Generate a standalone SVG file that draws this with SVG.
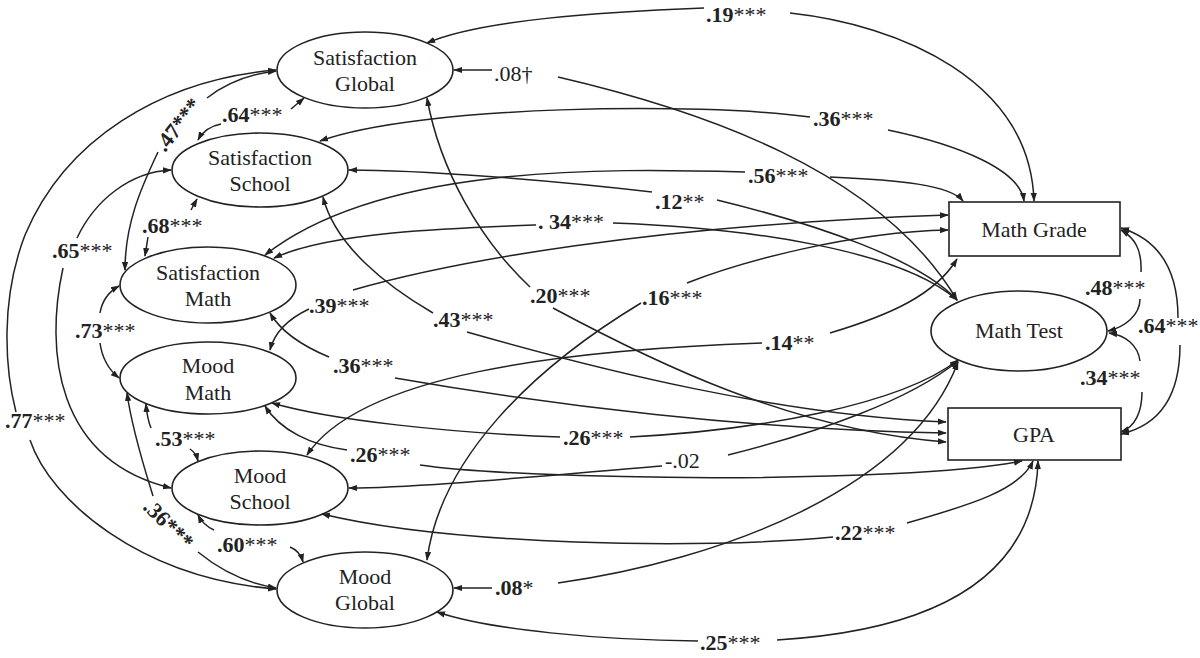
<svg xmlns="http://www.w3.org/2000/svg" width="1200" height="658" viewBox="0 0 1200 658">
<style>
.n ellipse, .n rect {fill:#fff; stroke:#222; stroke-width:1.6}
.t {font-family:"Liberation Serif","Times New Roman",serif; font-size:22px; fill:#222; text-anchor:middle}
.c path {fill:none; stroke:#222; stroke-width:1.5; marker-end:url(#ah)}
.l {font-family:"Liberation Serif","Times New Roman",serif; font-size:22px; font-weight:bold; fill:#222}
.s {font-weight:normal}
.r {font-weight:normal}
</style>
<defs>
<marker id="ah" viewBox="0 0 10 10" refX="9" refY="5" markerWidth="9" markerHeight="9" markerUnits="userSpaceOnUse" orient="auto"><path d="M0,1.5 L10,5 L0,8.5 z" fill="#222"/></marker>
</defs>
<rect width="1200" height="658" fill="#fff"/>

<g id="sat-global" class="n"><ellipse cx="365" cy="70" rx="88" ry="38"/><text class="t" x="365" y="65">Satisfaction</text><text class="t" x="365" y="91">Global</text></g>
<g id="sat-school" class="n"><ellipse cx="260" cy="170" rx="88" ry="37"/><text class="t" x="260" y="165">Satisfaction</text><text class="t" x="260" y="191">School</text></g>
<g id="sat-math" class="n"><ellipse cx="208" cy="285" rx="88" ry="38"/><text class="t" x="208" y="280">Satisfaction</text><text class="t" x="208" y="306">Math</text></g>
<g id="mood-math" class="n"><ellipse cx="208" cy="378" rx="88" ry="36"/><text class="t" x="208" y="373">Mood</text><text class="t" x="208" y="400">Math</text></g>
<g id="mood-school" class="n"><ellipse cx="260" cy="488" rx="88" ry="37"/><text class="t" x="260" y="483">Mood</text><text class="t" x="260" y="509">School</text></g>
<g id="mood-global" class="n"><ellipse cx="365" cy="590" rx="88" ry="38"/><text class="t" x="365" y="584">Mood</text><text class="t" x="365" y="610">Global</text></g>
<g id="math-grade" class="n"><rect x="949" y="202" width="171" height="54"/><text class="t" x="1034" y="237">Math Grade</text></g>
<g id="math-test" class="n"><ellipse cx="1019" cy="331" rx="88" ry="40"/><text class="t" x="1019" y="338">Math Test</text></g>
<g id="gpa" class="n"><rect x="948" y="408" width="173" height="52"/><text class="t" x="1034" y="442">GPA</text></g>

<g id="connectors" class="c">
<!-- left correlations -->
<path d="M291,109 Q297,104 304,98"/>
<path d="M221,124 Q205,127 198,140"/>
<path d="M207,98 C225,84 250,74 276,71"/>
<path d="M158,152 C140,190 125,225 125,270"/>
<path d="M191,210 L197,199"/>
<path d="M148,237 L145,256"/>
<path d="M77,238 C95,200 130,172 171,170"/>
<path d="M63,268 C45,350 55,460 171,488"/>
<path d="M100,313 Q103,295 119,286"/>
<path d="M100,343 Q103,365 119,378"/>
<path d="M16,412 C5,370 0,300 25,235 C65,140 160,80 276,70"/>
<path d="M30,440 C50,500 140,578 276,589"/>
<path d="M151,428 Q147,418 146,404"/>
<path d="M190,449 Q196,453 198,461"/>
<path d="M153,496 C145,470 132,430 127,393"/>
<path d="M198,552 C220,570 245,583 276,588"/>
<path d="M214,530 Q203,525 198,515"/>
<path d="M290,547 Q300,551 303,562"/>
<!-- to outcomes -->
<path d="M704,8 C600,12 480,20 427,43"/>
<path d="M790,13 C900,25 1030,80 1034,201"/>
<path d="M492,70 L454,70"/>
<path d="M558,77 C700,110 880,170 957,300"/>
<path d="M810,117 C700,102 420,105 320,141"/>
<path d="M888,130 C960,145 1020,170 1024,201"/>
<path d="M745,172 C600,168 380,165 265,255"/>
<path d="M830,177 C900,180 950,185 963,201"/>
<path d="M652,192 C550,180 420,170 349,170"/>
<path d="M717,200 C820,225 920,260 957,300"/>
<path d="M536,225 C450,228 330,232 274,258"/>
<path d="M613,223 C750,228 900,250 957,300"/>
<path d="M530,287 C480,240 440,170 427,98"/>
<path d="M553,308 C650,360 790,430 946,442"/>
<path d="M433,313 C385,285 335,245 323,197"/>
<path d="M467,332 C600,370 780,415 946,422"/>
<path d="M329,357 C300,345 280,330 270,313"/>
<path d="M395,378 C550,405 750,430 946,433"/>
<path d="M309,309 C290,318 275,330 270,350"/>
<path d="M353,290 C450,262 650,225 948,215"/>
<path d="M762,343 C560,350 360,375 307,455"/>
<path d="M830,333 C890,315 935,295 957,259"/>
<path d="M641,303 C530,370 440,460 427,560"/>
<path d="M687,283 C740,262 850,232 948,230"/>
<path d="M560,437 C450,433 330,420 272,403"/>
<path d="M630,437 C760,430 900,405 958,360"/>
<path d="M347,450 C310,445 280,430 265,406"/>
<path d="M420,465 C520,480 900,485 1022,461"/>
<path d="M662,466 C560,474 420,488 349,488"/>
<path d="M728,455 C820,432 910,400 958,361"/>
<path d="M833,537 C700,550 450,545 322,514"/>
<path d="M907,523 C970,505 1020,490 1033,461"/>
<path d="M492,588 L454,588"/>
<path d="M558,583 C720,560 910,490 958,362"/>
<path d="M698,641 C600,640 490,630 437,612"/>
<path d="M777,640 C940,630 1035,575 1038,461"/>
<!-- outcome correlations -->
<path d="M1141,272 C1142,250 1135,238 1121,230"/>
<path d="M1140,299 C1140,315 1125,327 1108,331"/>
<path d="M1140,361 C1138,345 1125,335 1109,333"/>
<path d="M1142,392 C1142,412 1135,427 1121,432"/>
<path d="M1178,318 C1178,270 1160,240 1121,228"/>
<path d="M1180,345 C1180,395 1160,425 1121,434"/>
</g>

<g id="labels">
<text class="l" x="222" y="122">.64<tspan class="s">***</tspan></text>
<text class="l" transform="translate(165,153) rotate(-52)">.47***</text>
<text class="l" x="142" y="233">.68<tspan class="s">***</tspan></text>
<text class="l" x="52" y="258">.65<tspan class="s">***</tspan></text>
<text class="l" x="75" y="338">.73<tspan class="s">***</tspan></text>
<text class="l" x="5" y="428">.77<tspan class="s">***</tspan></text>
<text class="l" x="155" y="446">.53<tspan class="s">***</tspan></text>
<text class="l" transform="translate(142,508) rotate(45)">.36***</text>
<text class="l" x="217" y="552">.60<tspan class="s">***</tspan></text>
<text class="l" x="706" y="22">.19<tspan class="s">***</tspan></text>
<text class="l r" x="494" y="81">.08†</text>
<text class="l" x="813" y="126">.36<tspan class="s">***</tspan></text>
<text class="l" x="748" y="183">.56<tspan class="s">***</tspan></text>
<text class="l" x="655" y="209">.12<tspan class="s">**</tspan></text>
<text class="l" x="538" y="229">. 34<tspan class="s">***</tspan></text>
<text class="l" x="530" y="303">.20<tspan class="s">***</tspan></text>
<text class="l" x="433" y="327">.43<tspan class="s">***</tspan></text>
<text class="l" x="333" y="373">.36<tspan class="s">***</tspan></text>
<text class="l" x="309" y="313">.39<tspan class="s">***</tspan></text>
<text class="l" x="765" y="350">.14<tspan class="s">**</tspan></text>
<text class="l" x="642" y="305">.16<tspan class="s">***</tspan></text>
<text class="l" x="563" y="445">.26<tspan class="s">***</tspan></text>
<text class="l" x="350" y="462">.26<tspan class="s">***</tspan></text>
<text class="l r" x="665" y="468">-.02</text>
<text class="l" x="835" y="540">.22<tspan class="s">***</tspan></text>
<text class="l" x="495" y="595">.08<tspan class="s">*</tspan></text>
<text class="l" x="700" y="650">.25<tspan class="s">***</tspan></text>
<text class="l" x="1085" y="295">.48<tspan class="s">***</tspan></text>
<text class="l" x="1080" y="385">.34<tspan class="s">***</tspan></text>
<text class="l" x="1138" y="333">.64<tspan class="s">***</tspan></text>
</g>
</svg>
